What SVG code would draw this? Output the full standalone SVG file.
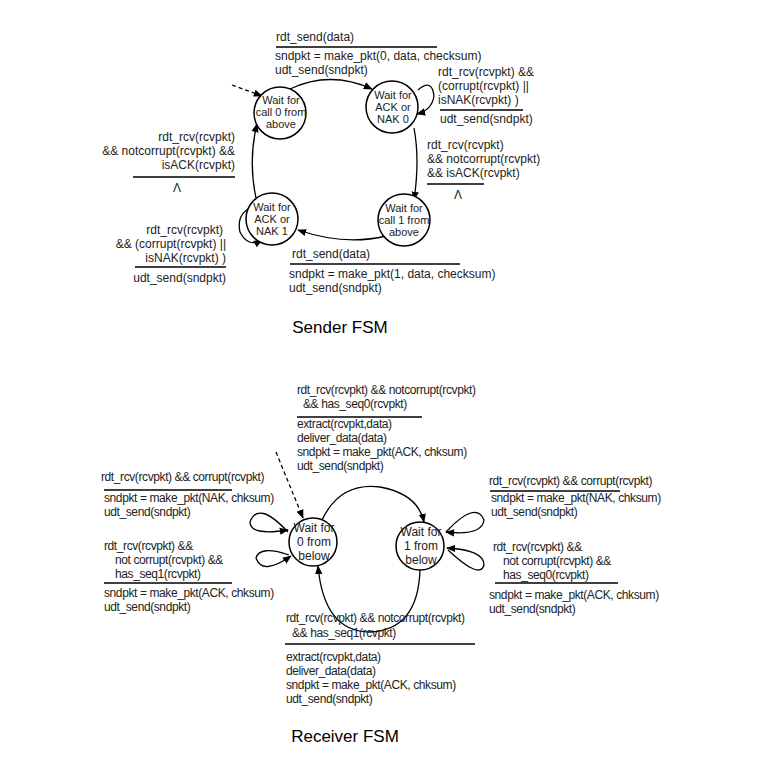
<svg xmlns="http://www.w3.org/2000/svg" width="767" height="766" viewBox="0 0 767 766">
<defs>
<marker id="ah" viewBox="0 0 10 10" refX="9" refY="5" markerWidth="7" markerHeight="7" orient="auto"><path d="M0,1 L10,5 L0,9 z" fill="#000"/></marker>
<style>
text{font-family:"Liberation Sans",Arial,sans-serif;font-size:12px;fill:#222}
.st text{font-size:11px;text-anchor:middle}
.rv{font-size:12px;letter-spacing:-0.4px}
circle{fill:#fff;stroke:#000;stroke-width:1.5}
.bar{stroke:#000;stroke-width:1.5}
.e{fill:none;stroke:#000;stroke-width:1.3;marker-end:url(#ah)}
.d{stroke-dasharray:4,3}
.t{font-size:17px;fill:#000}
</style>
</defs>
<rect width="767" height="766" fill="#fff"/>
<g id="connectors">
<path class="e" d="M290,89 Q330,70 372,89"/>
<path class="e" d="M418,90 Q432,78 434,96 Q432,110 417,114"/>
<path class="e" d="M414,128 Q420,160 414,200"/>
<path class="e" d="M386,236 Q345,246 298,230"/>
<path class="e" d="M252,207 Q236,214 240,232 Q248,248 262,240"/>
<path class="e" d="M256,198 Q248,160 257,124"/>
<path class="e d" d="M232,85 L262,96"/>
<path class="e" d="M322,520 Q340,482 380,487 Q418,494 424,522"/>
<path class="e" d="M420,570 Q418,630 370,632 Q324,632 318,566"/>
<path class="e" d="M288,532 Q258,500 250,522 Q250,536 288,530"/>
<path class="e" d="M289,555 Q260,545 256,558 Q262,576 291,556"/>
<path class="e" d="M446,532 Q476,500 484,520 Q482,536 446,532"/>
<path class="e" d="M448,550 Q480,580 484,565 Q484,550 447,548"/>
<path class="e d" d="M276,452 L303,518"/>
</g>
<g id="s0" class="st"><circle cx="280" cy="113" r="26"/><text x="281" y="104">Wait for</text><text x="281" y="116">call 0 from</text><text x="281" y="128">above</text></g>
<g id="s1" class="st"><circle cx="392" cy="107" r="26"/><text x="393" y="99">Wait for</text><text x="393" y="111">ACK or</text><text x="393" y="123">NAK 0</text></g>
<g id="s2" class="st"><circle cx="404" cy="220" r="26"/><text x="404" y="212">Wait for</text><text x="404" y="224">call 1 from</text><text x="404" y="236">above</text></g>
<g id="s3" class="st"><circle cx="272" cy="219" r="26"/><text x="272" y="211">Wait for</text><text x="272" y="223">ACK or</text><text x="272" y="235">NAK 1</text></g>
<g id="r0" class="st"><circle cx="313" cy="542" r="24"/><text x="314" y="532" style="font-size:12px">Wait for</text><text x="314" y="546" style="font-size:12px">0 from</text><text x="314" y="560" style="font-size:12px">below</text></g>
<g id="r1" class="st"><circle cx="420" cy="546" r="24"/><text x="421" y="536" style="font-size:12px">Wait for</text><text x="421" y="550" style="font-size:12px">1 from</text><text x="421" y="564" style="font-size:12px">below</text></g>
<g id="labels">
<text x="276" y="41">rdt_send(data)</text><line class="bar" x1="276" y1="47" x2="437" y2="47"/><text x="275" y="60">sndpkt = make_pkt(0, data, checksum)</text><text x="275" y="74">udt_send(sndpkt)</text>
<text x="438" y="76">rdt_rcv(rcvpkt) &amp;&amp;</text><text x="438" y="90">(corrupt(rcvpkt) ||</text><text x="438" y="104">isNAK(rcvpkt) )</text><line class="bar" x1="440" y1="110" x2="523" y2="110"/><text x="440" y="123">udt_send(sndpkt)</text>
<text x="427" y="149">rdt_rcv(rcvpkt)</text><text x="427" y="163">&amp;&amp; notcorrupt(rcvpkt)</text><text x="427" y="177">&amp;&amp; isACK(rcvpkt)</text><line class="bar" x1="427" y1="184" x2="484" y2="184"/><text x="458" y="199" text-anchor="middle">Λ</text>
<text x="235" y="141" text-anchor="end">rdt_rcv(rcvpkt)</text><text x="235" y="155" text-anchor="end">&amp;&amp; notcorrupt(rcvpkt) &amp;&amp;</text><text x="235" y="169" text-anchor="end">isACK(rcvpkt)</text><line class="bar" x1="133" y1="177" x2="235" y2="177"/><text x="177" y="192" text-anchor="middle">Λ</text>
<text x="223" y="234" text-anchor="end">rdt_rcv(rcvpkt)</text><text x="226" y="248" text-anchor="end">&amp;&amp; (corrupt(rcvpkt) ||</text><text x="226" y="262" text-anchor="end">isNAK(rcvpkt) )</text><line class="bar" x1="135" y1="267" x2="226" y2="267"/><text x="226" y="282" text-anchor="end">udt_send(sndpkt)</text>
<text x="292" y="258">rdt_send(data)</text><line class="bar" x1="290" y1="264" x2="460" y2="264"/><text x="289" y="278">sndpkt = make_pkt(1, data, checksum)</text><text x="289" y="292">udt_send(sndpkt)</text>
<text class="t" x="340" y="333" text-anchor="middle">Sender FSM</text>
<g class="rv">
<text class="rv" x="297" y="394">rdt_rcv(rcvpkt) &amp;&amp; notcorrupt(rcvpkt)</text><text class="rv" x="303" y="408">&amp;&amp; has_seq0(rcvpkt)</text><line class="bar" x1="297" y1="417" x2="422" y2="417"/><text class="rv" x="297" y="428">extract(rcvpkt,data)</text><text class="rv" x="297" y="442">deliver_data(data)</text><text class="rv" x="297" y="456">sndpkt = make_pkt(ACK, chksum)</text><text class="rv" x="297" y="470">udt_send(sndpkt)</text>
<text class="rv" x="101" y="481">rdt_rcv(rcvpkt) &amp;&amp; corrupt(rcvpkt)</text><line class="bar" x1="104" y1="490" x2="232" y2="490"/><text class="rv" x="104" y="502">sndpkt = make_pkt(NAK, chksum)</text><text class="rv" x="104" y="516">udt_send(sndpkt)</text>
<text class="rv" x="104" y="550">rdt_rcv(rcvpkt) &amp;&amp;</text><text class="rv" x="115" y="564">not corrupt(rcvpkt) &amp;&amp;</text><text class="rv" x="115" y="578">has_seq1(rcvpkt)</text><line class="bar" x1="104" y1="583" x2="232" y2="583"/><text class="rv" x="104" y="597">sndpkt = make_pkt(ACK, chksum)</text><text class="rv" x="104" y="611">udt_send(sndpkt)</text>
<text class="rv" x="489" y="485">rdt_rcv(rcvpkt) &amp;&amp; corrupt(rcvpkt)</text><line class="bar" x1="490" y1="491" x2="620" y2="491"/><text class="rv" x="491" y="502">sndpkt = make_pkt(NAK, chksum)</text><text class="rv" x="491" y="516">udt_send(sndpkt)</text>
<text class="rv" x="493" y="551">rdt_rcv(rcvpkt) &amp;&amp;</text><text class="rv" x="503" y="565">not corrupt(rcvpkt) &amp;&amp;</text><text class="rv" x="503" y="579">has_seq0(rcvpkt)</text><line class="bar" x1="495" y1="583" x2="618" y2="583"/><text class="rv" x="489" y="599">sndpkt = make_pkt(ACK, chksum)</text><text class="rv" x="489" y="613">udt_send(sndpkt)</text>
<text class="rv" x="286" y="622">rdt_rcv(rcvpkt) &amp;&amp; notcorrupt(rcvpkt)</text><text class="rv" x="292" y="637">&amp;&amp; has_seq1(rcvpkt)</text><line class="bar" x1="285" y1="644" x2="475" y2="644"/><text class="rv" x="286" y="661">extract(rcvpkt,data)</text><text class="rv" x="286" y="675">deliver_data(data)</text><text class="rv" x="286" y="689">sndpkt = make_pkt(ACK, chksum)</text><text class="rv" x="286" y="703">udt_send(sndpkt)</text>
</g>
<text class="t" x="345" y="742" text-anchor="middle">Receiver FSM</text>
</g>
</svg>
